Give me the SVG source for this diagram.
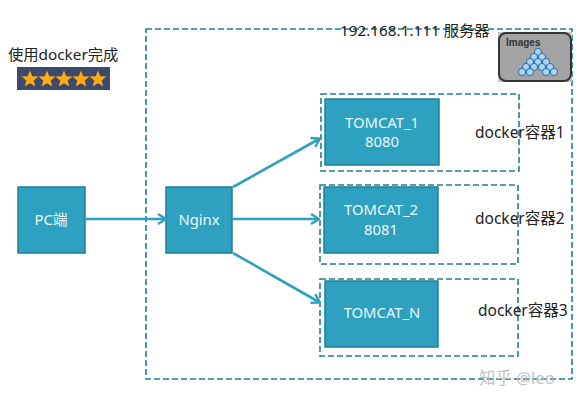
<svg xmlns="http://www.w3.org/2000/svg" width="576" height="403" viewBox="0 0 576 403">
<defs>
<style>
text{font-family:"Noto Sans","Noto Sans CJK SC",sans-serif}
.n{fill:#2ea1c0;stroke:#1f8098;stroke-width:1.5}
.t{fill:#e8f7fb;font-size:14.8px;text-anchor:middle}
.d{fill:none;stroke:#1f7f92;stroke-width:1.6;stroke-dasharray:6 3}
.l{fill:#222;font-size:15.3px}
.c{fill:none;stroke:#2ea1c0;stroke-width:2.6}
.s{fill:#fdab12}
.b{fill:#a9d5f0;stroke:#2f6ea8;stroke-width:1}
</style>
<path id="st" d="M0-8.5 2.3-2.8 8.5-2.4 3.7 1.4 5.3 7.5 0 4.2-5.3 7.5-3.7 1.4-8.5-2.4-2.3-2.8Z"/>
<circle id="bb" r="3.6"/>
<marker id="a" markerWidth="10" markerHeight="12" refX="8" refY="5" orient="auto" markerUnits="userSpaceOnUse" viewBox="0 0 10 10"><path d="M1 0 9 5 1 10" fill="none" stroke="#2ea1c0" stroke-width="2.4"/></marker>
</defs>
<rect width="576" height="403" fill="#fff"/>
<g id="badge">
<text class="l" x="8" y="60">使用docker完成</text>
<rect x="17" y="67" width="93" height="23" fill="#3d4a6b"/>
<use href="#st" class="s" x="30" y="79"/><use href="#st" class="s" x="47" y="79"/><use href="#st" class="s" x="64" y="79"/><use href="#st" class="s" x="81" y="79"/><use href="#st" class="s" x="98" y="79"/>
</g>
<g id="server">
<rect class="d" x="146" y="29" width="426" height="350"/>
<text class="l" x="340" y="36">192.168.1.111 服务器</text>
</g>
<g id="images">
<rect x="498" y="32" width="74" height="50" fill="#c4c4c4"/>
<rect x="499" y="33" width="72" height="48" rx="7" fill="#a3a3a3" stroke="#333" stroke-width="2"/>
<text x="506" y="46" font-size="10" font-weight="700" fill="#333" style="font-family:'Liberation Sans',sans-serif">Images</text>
<g class="b">
<use href="#bb" x="538" y="52"/>
<use href="#bb" x="534" y="57"/><use href="#bb" x="542" y="57"/>
<use href="#bb" x="530" y="62"/><use href="#bb" x="538" y="62"/><use href="#bb" x="546" y="62"/>
<use href="#bb" x="526" y="67"/><use href="#bb" x="534" y="67"/><use href="#bb" x="542" y="67"/><use href="#bb" x="550" y="67"/>
<use href="#bb" x="522" y="72"/><use href="#bb" x="530" y="72"/><use href="#bb" x="546" y="72"/><use href="#bb" x="554" y="72"/>
</g>
</g>
<g id="container1"><rect class="d" x="321" y="94" width="198" height="77"/><text class="l" x="475" y="138" style="font-size:15.5px">docker容器1</text></g>
<g id="container2"><rect class="d" x="320" y="185" width="198" height="79"/><text class="l" x="475" y="224" style="font-size:15.5px">docker容器2</text></g>
<g id="container3"><rect class="d" x="320" y="279" width="198" height="77"/><text class="l" x="478" y="316" style="font-size:15.5px">docker容器3</text></g>
<g id="pc"><rect class="n" x="18" y="187" width="67" height="66"/><text class="t" x="51" y="225">PC端</text></g>
<g id="nginx"><rect class="n" x="166" y="187" width="66" height="66"/><text class="t" x="199" y="225">Nginx</text></g>
<g id="tomcat1"><rect class="n" x="325" y="99" width="114" height="66"/><text class="t" x="382" y="128">TOMCAT_1</text><text class="t" x="382" y="147">8080</text></g>
<g id="tomcat2"><rect class="n" x="324" y="187" width="114" height="66"/><text class="t" x="381" y="215">TOMCAT_2</text><text class="t" x="381" y="235">8081</text></g>
<g id="tomcatn"><rect class="n" x="325" y="281" width="113" height="66"/><text class="t" x="382" y="318">TOMCAT_N</text></g>
<g id="connectors">
<path class="c" d="M85 219H165" marker-end="url(#a)"/>
<path class="c" d="M233 187 319 139" marker-end="url(#a)"/>
<path class="c" d="M232 219H318" marker-end="url(#a)"/>
<path class="c" d="M233 253 319 302" marker-end="url(#a)"/>
</g>
<g id="watermark"><text x="479" y="384" font-size="16.5" fill="#b9b9b9" opacity=".85">知乎 @leo</text></g>
</svg>
